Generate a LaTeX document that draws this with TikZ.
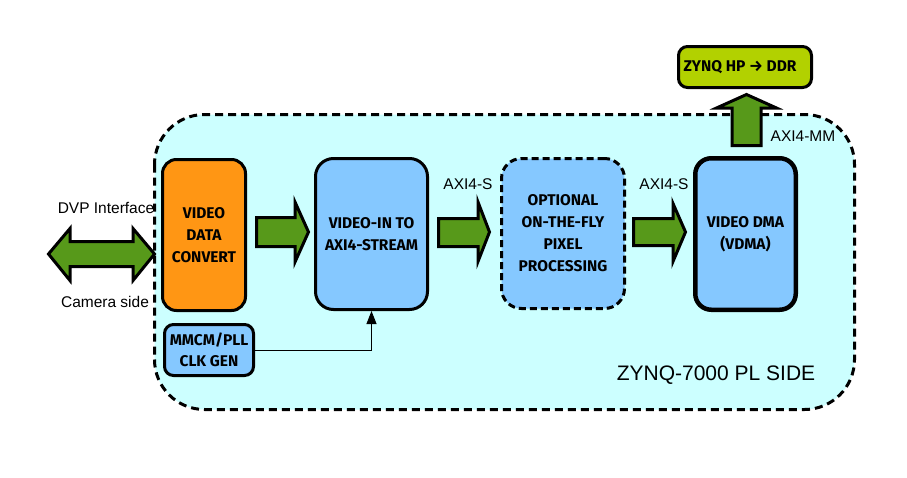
\documentclass[tikz,border=0pt]{standalone}
\usepackage{fontspec}
\setmainfont{Liberation Sans}
\newfontfamily\boxfont{Fira Sans}
\usetikzlibrary{arrows.meta}
\definecolor{bgcyan}{HTML}{CCFFFF}
\definecolor{boxblue}{HTML}{85C8FF}
\definecolor{boxorange}{HTML}{FF9614}
\definecolor{arrgreen}{HTML}{57991A}
\definecolor{boxlime}{HTML}{B2D100}
\tikzset{
  block/.style={draw=black, line width=3pt, rounded corners=14pt, align=center,
    font=\boxfont\bfseries\fontsize{15.5}{22}\selectfont, inner sep=2pt},
  blockarrow/.style={draw=black, fill=arrgreen, line width=3pt, line join=miter},
  lbl/.style={font=\fontsize{15.5}{18}\selectfont, inner sep=0pt},
}
\begin{document}
\begin{tikzpicture}[x=1pt,y=-1pt]
\useasboundingbox (0,0) rectangle (907,477);
% container
\draw[fill=bgcyan, line width=3pt, dash pattern=on 8pt off 5pt, rounded corners=50pt]
  (154.5,114.5) rectangle (854.5,409.5);
\node[lbl, font=\fontsize{21}{24}\selectfont] (plside) at (716,375) {ZYNQ-7000 PL SIDE};

% blocks
\node[block, fill=boxorange, minimum width=83pt, minimum height=151pt] (conv) at (204,235) {VIDEO\\DATA\\CONVERT};
\node[block, fill=boxblue, minimum width=112pt, minimum height=151pt, rounded corners=18pt] (vin) at (371.5,234) {VIDEO-IN TO\\AXI4-STREAM};
\node[block, fill=boxblue, minimum width=123pt, minimum height=150pt, rounded corners=20pt, dash pattern=on 7pt off 4pt] (opt) at (563,233.5) {OPTIONAL\\ON-THE-FLY\\PIXEL\\PROCESSING};
\node[block, fill=boxblue, line width=4.5pt, minimum width=100.5pt, minimum height=151.5pt, rounded corners=16pt] (vdma) at (745.5,234) {VIDEO DMA\\(VDMA)};
\node[block, fill=boxblue, minimum width=89pt, minimum height=51pt, rounded corners=9pt, font=\boxfont\bfseries\fontsize{15.5}{21}\selectfont] (mmcm) at (209,350) {MMCM/PLL\\CLK GEN};
\node[block, fill=boxlime, minimum width=133pt, minimum height=41pt, rounded corners=9pt] (ddr) at (745,67) {ZYNQ HP → DDR\hspace*{10pt}};

% clock connector
\draw[line width=1pt, -{Triangle[length=13pt,width=10pt]}] (mmcm.east) -| (vin.south);

% block arrows
\draw[blockarrow] (48.5,254)--(70,228.5)--(70,241.5)--(133,241.5)--(133,228.5)--(154.5,254)--(133,280.5)--(133,266.5)--(70,266.5)--(70,280.5)--cycle;
\draw[blockarrow] (256.5,217.5)--(295,217.5)--(295,202)--(308.5,232)--(295,262)--(295,246.5)--(256.5,246.5)--cycle;
\draw[blockarrow] (438.5,218.5)--(478,218.5)--(478,202)--(489.5,232)--(478,261.5)--(478,246.5)--(438.5,246.5)--cycle;
\draw[blockarrow] (633.5,218.5)--(673,218.5)--(673,203.5)--(685.5,232)--(673,261.5)--(673,245.5)--(633.5,245.5)--cycle;
\draw[blockarrow] (746.5,94.5)--(776.5,108)--(761,108)--(761,145.5)--(732,145.5)--(732,108)--(716.5,108)--cycle;

% labels
\node[lbl] (dvp) at (106,208) {DVP Interface};
\node[lbl] (cam) at (105,302) {Camera side};
\node[lbl] (axis1) at (468,184) {AXI4-S};
\node[lbl] (axis2) at (664,184) {AXI4-S};
\node[lbl] (axmm) at (803,136) {AXI4-MM};
\end{tikzpicture}
\end{document}
